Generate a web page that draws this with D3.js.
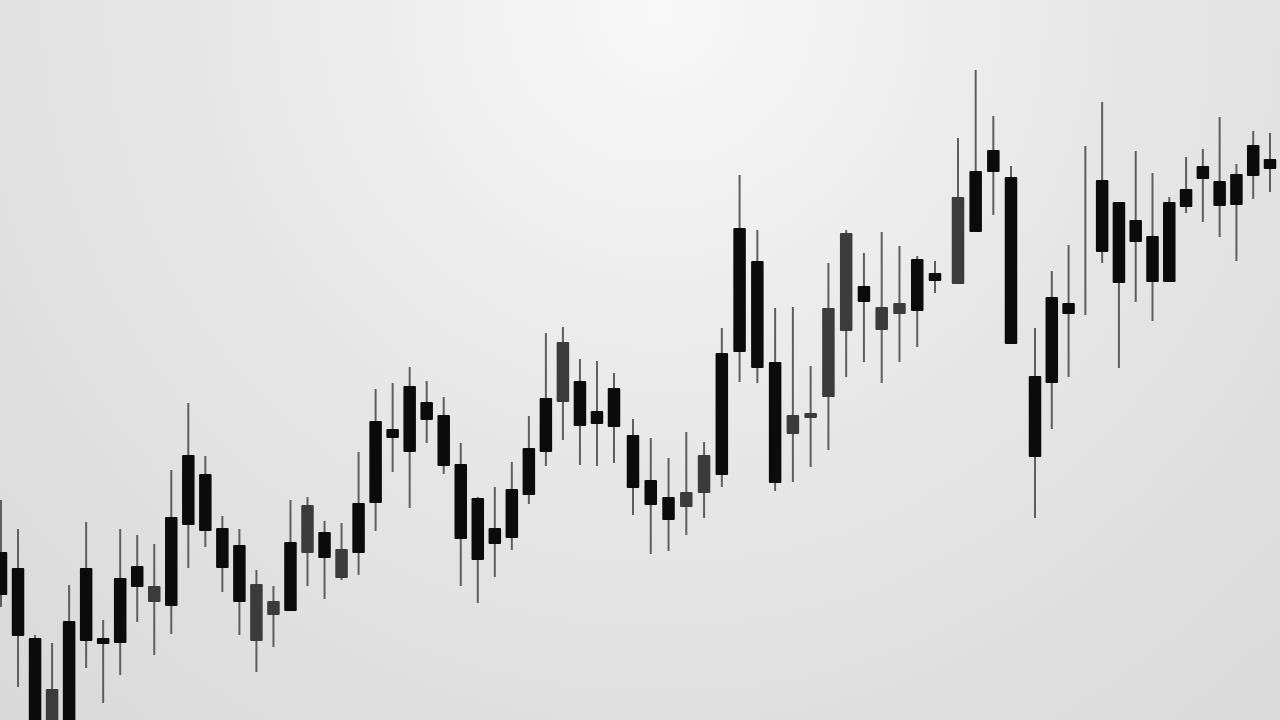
<!DOCTYPE html>
<html>
<head>
<meta charset="utf-8">
<script src="https://cdn.jsdelivr.net/npm/d3@7"></script>
<style>
  html, body { margin: 0; padding: 0; background: #e4e4e4; overflow: hidden; }
  svg { display: block; }
</style>
</head>
<body>
<svg id="chart" width="1280" height="720"></svg>
<script>
// OHLC values (arbitrary price units)
const open  = [116.8,115.2,108.2, 99.0,109.9,115.2,108.2,114.2,115.4,111.8,120.3,126.5,124.6,119.2,117.5,107.9,110.5,117.8,116.7,118.8,114.2,121.7,129.9,129.1,133.4,131.8,130.5,125.6,122.2,119.2,123.1,127.2,132.2,131.8,133.9,130.9,133.2,128.5,124.0,122.3,121.3,122.7,136.7,149.2,145.9,135.8,128.6,130.2,132.3,138.9,143.4,139.0,140.6,146.1,144.7,143.6,154.9,157.0,154.3,134.4,142.3,141.7,146.7,154.0,151.8,150.0,148.4,151.8,153.1,155.4,153.9,154.6,157.5,156.1];
const high  = [122.0,119.1,108.5,107.7,113.5,119.8,110.0,119.1,118.5,117.6,125.0,131.7,126.4,120.4,119.1,115.0,113.4,122.0,122.3,119.9,119.7,126.8,133.1,133.7,135.3,133.9,132.3,127.7,122.3,123.3,125.8,130.4,138.7,139.3,136.1,135.9,134.7,130.1,128.2,126.2,128.8,127.8,139.2,154.5,149.0,141.2,141.3,135.4,145.7,149.0,146.7,148.8,147.4,146.4,145.9,158.2,165.0,160.4,155.4,139.2,144.9,147.5,157.4,161.8,151.8,156.9,154.7,152.3,156.3,157.1,160.3,155.6,158.9,158.7];
const low   = [111.3,103.3, 98.0, 98.0, 98.0,105.2,101.7,104.5,109.8,106.5,108.6,115.2,117.3,112.8,108.5,104.8,107.3,110.9,113.4,112.1,114.0,114.5,118.9,124.8,121.2,127.7,124.6,113.4,111.7,114.3,117.0,121.6,125.4,128.0,125.5,125.4,125.7,120.5,116.6,116.9,118.5,120.2,123.3,133.8,133.7,122.9,123.8,125.3,127.0,134.3,135.8,133.7,135.8,137.3,142.7,143.6,148.8,150.5,137.6,120.2,129.1,134.3,140.5,145.7,135.2,141.8,139.9,143.8,150.7,149.8,148.3,145.9,152.1,152.8];
const close = [112.5,108.4, 99.0,103.1, 99.0,107.9,107.6,107.7,113.3,113.4,111.4,119.5,118.9,115.2,111.8,113.6,111.9,110.9,121.5,116.2,117.1,116.7,121.7,128.2,126.8,130.0,125.4,118.1,116.0,117.6,118.2,122.5,126.8,137.8,129.4,129.6,129.3,123.2,121.5,120.0,122.8,126.5,124.5,136.8,135.2,123.7,130.5,130.7,141.2,148.7,141.8,141.3,141.7,140.9,143.9,152.3,148.8,154.8,137.6,126.3,133.7,140.6,146.7,146.8,143.7,147.8,143.8,143.8,151.3,154.1,151.4,151.5,154.4,155.1];

const W = 1280, H = 720;
const svg = d3.select("#chart");

// background radial gradient
const defs = svg.append("defs");
const grad = defs.append("radialGradient")
  .attr("id", "bg").attr("gradientUnits", "userSpaceOnUse")
  .attr("cx", 660).attr("cy", 10).attr("r", 1000);
grad.append("stop").attr("offset", "0%").attr("stop-color", "#f8f8f8");
grad.append("stop").attr("offset", "45%").attr("stop-color", "#e7e7e7");
grad.append("stop").attr("offset", "100%").attr("stop-color", "#d8d8d8");
svg.append("rect").attr("width", W).attr("height", H).attr("fill", "url(#bg)");

const data = open.map((o, i) => ({ i, o, h: high[i], l: low[i], c: close[i] }));

// x: session index; the source is slightly uneven (perspective), so a polylinear scale
const x = d3.scaleLinear()
  .domain([0, 36, 37, 54, 55, 58, 59, data.length - 1])
  .range([1, 614, 633, 935, 958, 1011, 1035, 1270]);
const y = d3.scaleLinear().domain([100, 172]).range([720, 0]);
const bw = 12.5;

const g = svg.append("g");
const candle = g.selectAll("g.candle").data(data).join("g").attr("class", "candle");

candle.append("line")
  .attr("x1", d => x(d.i)).attr("x2", d => x(d.i))
  .attr("y1", d => y(d.h)).attr("y2", d => y(d.l))
  .attr("stroke", "#5e5e5e").attr("stroke-width", 2);

candle.append("rect")
  .attr("x", d => x(d.i) - bw / 2)
  .attr("width", bw)
  .attr("y", d => y(Math.max(d.o, d.c)))
  .attr("height", d => Math.abs(y(d.o) - y(d.c)))
  .attr("rx", 1)
  .attr("fill", d => d.c > d.o ? "#3b3b3b" : "#0b0b0b");
</script>
</body>
</html>
